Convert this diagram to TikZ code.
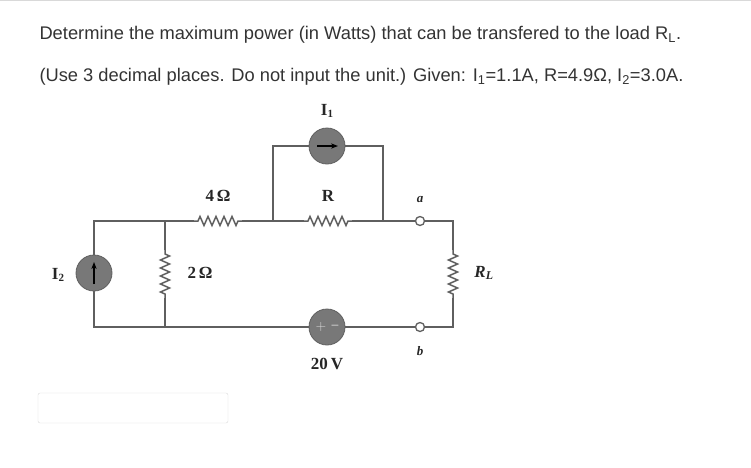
\documentclass[tikz,border=0pt]{standalone}
\usepackage{fontspec}
\setmainfont{Liberation Serif}
\newfontfamily\qfont{Liberation Sans}
\usetikzlibrary{decorations.pathmorphing, arrows.meta}
\definecolor{srcgray}{RGB}{120,120,120}
\definecolor{wiregray}{RGB}{95,95,95}
\begin{document}
\begin{tikzpicture}[x=1pt, y=-1pt,
  wire/.style={draw=wiregray, line width=1.5pt},
  res/.style={wire, decorate, decoration={zigzag, amplitude=4.5pt, segment length=8pt, pre length=4pt, post length=4pt}},
  src/.style={circle, fill=srcgray, draw=wiregray, line width=0.8pt, minimum size=36pt, inner sep=0pt},
  term/.style={circle, draw=wiregray, fill=white, line width=1.3pt, minimum size=9pt, inner sep=0pt},
  lbl/.style={font=\bfseries\fontsize{17}{17}\selectfont, text=black!85}]
\useasboundingbox (0,0) rectangle (751,467);
\draw[black!15] (0,0.5) -- (751,0.5);
% question text
\node[anchor=west, text=black!80, font=\qfont\fontsize{18.3}{20}\selectfont] (q1) at (36,35)
  {Determine the maximum power (in Watts) that can be transfered to the load R\textsubscript{L}.};
\node[anchor=west, text=black!80, font=\qfont\fontsize{18.3}{20}\selectfont] (q2) at (36,77)
  {(Use 3 decimal places. Do not input the unit.) Given: I\textsubscript{1}=1.1A, R=4.9Ω, I\textsubscript{2}=3.0A.};
% corner points
\coordinate (tl) at (94,221);
\coordinate (bl) at (94,327);
\coordinate (j1) at (165,221);
\coordinate (j1b) at (165,327);
\coordinate (j2) at (273,221);
\coordinate (j3) at (383,221);
\coordinate (t2) at (273,146);
\coordinate (t3) at (383,146);
\coordinate (tr) at (453,221);
\coordinate (br) at (453,327);
\coordinate (r4a) at (194,221);
\coordinate (r4b) at (242,221);
\coordinate (ra) at (304,221);
\coordinate (rb) at (352,221);
\coordinate (r2a) at (165,250);
\coordinate (r2b) at (165,298);
\coordinate (rLa) at (453,250);
\coordinate (rLb) at (453,298);
% sources and terminals
\node[src] (I1) at (327,146) {};
\node[src] (I2) at (94,273) {};
\node[src] (V) at (327,327) {};
\node[term] (a) at (420,221) {};
\node[term] (b) at (420,327) {};
% wires
\draw[wire] (I2) -- (tl) -- (r4a);
\draw[wire] (I2) -- (bl) -- (V);
\draw[wire] (j1) -- (r2a);
\draw[wire] (r2b) -- (j1b);
\draw[wire] (r4b) -- (ra);
\draw[wire] (rb) -- (a) -- (tr) -- (rLa);
\draw[wire] (rLb) -- (br) -- (b) -- (V);
\draw[wire] (j2) -- (t2) -- (I1) -- (t3) -- (j3);
\draw[res] (r4a) -- (r4b);
\draw[res] (ra) -- (rb);
\draw[res] (r2a) -- (r2b);
\draw[res] (rLa) -- (rLb);
% source symbols
\draw[black, line width=1.4pt, -{Stealth[length=7pt]}] ([xshift=-10pt]I1.center) -- ([xshift=11pt]I1.center);
\draw[black, line width=1.4pt, -{Stealth[length=7pt]}] ([yshift=-11pt]I2.center) -- ([yshift=11pt]I2.center);
\node[text=white!85!black, font=\sffamily\fontsize{14}{14}\selectfont] at ([xshift=-6pt]V.center) {+};
\node[text=white!85!black, font=\sffamily\fontsize{14}{14}\selectfont] at ([xshift=8pt]V.center) {--};
% labels
\node[lbl] at (327,111) {I\raisebox{-0.3ex}{\fontsize{11}{11}\selectfont 1}};
\node[lbl] at (58,275) {I\raisebox{-0.3ex}{\fontsize{11}{11}\selectfont 2}};
\node[lbl] at (218,196) {4\,Ω};
\node[lbl] at (328,196) {R};
\node[lbl] at (200,273) {2\,Ω};
\node[lbl] at (484,273) {\textit{R\textsubscript{L}}};
\node[lbl, font=\bfseries\itshape\fontsize{13}{13}\selectfont] at (420,199) {a};
\node[lbl, font=\bfseries\itshape\fontsize{13}{13}\selectfont] at (420,351) {b};
\node[lbl] at (327,364) {20\,V};
% answer box
\draw[black!15, rounded corners=2pt] (38,393) rectangle (228,423);
\end{tikzpicture}
\end{document}
